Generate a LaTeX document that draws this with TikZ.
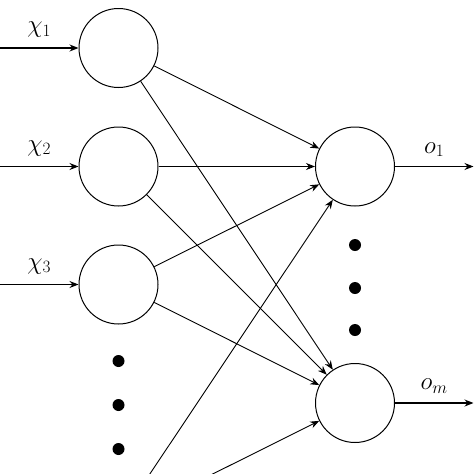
\documentclass[tikz,border=0pt]{standalone}
\usetikzlibrary{arrows.meta}
\begin{document}
\begin{tikzpicture}[x=1pt,y=-1pt,
  neuron/.style={circle, draw, minimum size=79pt, inner sep=0pt, line width=1pt},
  conn/.style={-{Stealth[length=9pt,width=7pt]}, line width=0.9pt},
  ioarrow/.style={-{Stealth[length=9pt,width=7pt]}, line width=1.2pt},
  bigdot/.style={circle, fill=black, minimum size=12pt, inner sep=0pt},
  lab/.style={font=\fontsize{26}{30}\selectfont, inner sep=0pt}]
\useasboundingbox (0,0) rectangle (474,474);
\clip (0,0) rectangle (474,474);
% input neurons
\node[neuron] (i1) at (118.5,48) {};
\node[neuron] (i2) at (118.5,166.5) {};
\node[neuron] (i3) at (118.5,284.5) {};
\coordinate (in) at (118.5,521);
% output neurons
\node[neuron] (o1) at (355,166.5) {};
\node[neuron] (om) at (355,403) {};
% input arrows
\coordinate (x1) at (0,48);
\coordinate (x2) at (0,166.5);
\coordinate (x3) at (0,284.5);
\draw[ioarrow] (x1) -- node[lab, midway, above=10pt] {$\chi_1$} (i1);
\draw[ioarrow] (x2) -- node[lab, midway, above=10pt] {$\chi_2$} (i2);
\draw[ioarrow] (x3) -- node[lab, midway, above=10pt] {$\chi_3$} (i3);
% output arrows
\coordinate (y1) at (473.5,166.5);
\coordinate (ym) at (473.5,403);
\draw[ioarrow] (o1) -- node[lab, midway, above=9pt] {$o_1$} (y1);
\draw[ioarrow] (om) -- node[lab, midway, above=9pt] {$o_m$} (ym);
% connections
\foreach \s in {i1,i2,i3,in}{
  \draw[conn] (\s) -- (o1);
  \draw[conn] (\s) -- (om);
}
% dots
\node[bigdot] (d1) at (118.5,361) {};
\node[bigdot] (d2) at (118.5,405) {};
\node[bigdot] (d3) at (118.5,449) {};
\node[bigdot] (e1) at (355,245) {};
\node[bigdot] (e2) at (355,288) {};
\node[bigdot] (e3) at (355,330) {};
\end{tikzpicture}
\end{document}
